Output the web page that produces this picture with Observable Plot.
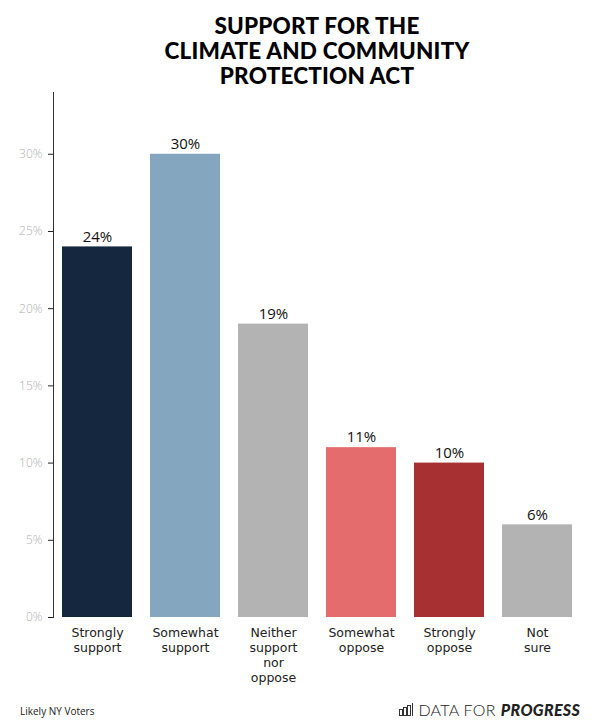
<!DOCTYPE html>
<html>
<head>
<meta charset="utf-8">
<script src="https://cdn.jsdelivr.net/npm/d3@7"></script>
<script src="https://cdn.jsdelivr.net/npm/@observablehq/plot@0.6"></script>
<style>
  body { margin: 0; background: #fff; width: 600px; font-family: Lato, "Open Sans", sans-serif; }
  #title { height: 88px; box-sizing: border-box; padding-top: 13px; padding-left: 34px; text-align: center;
           font-family: Lato, sans-serif; font-weight: 900; font-size: 22.5px; line-height: 25px; color: #000; letter-spacing: 0.2px; }
  #footer { position: relative; height: 34px; }
  #note { position: absolute; left: 20px; top: 14px; font-size: 10px; color: #222; font-family: "Open Sans", sans-serif; }
  #logo { position: absolute; right: 20px; top: 10px; font-size: 16px; color: #222; font-family: Lato, sans-serif; display: flex; align-items: center; letter-spacing: 0.3px; }
  #logo b { font-style: italic; font-weight: 900; margin-left: 5px; }
</style>
</head>
<body>
<div id="title">SUPPORT FOR THE<br>CLIMATE AND COMMUNITY<br>PROTECTION ACT</div>
<div id="chart"></div>
<div id="footer">
  <div id="note">Likely NY Voters</div>
  <div id="logo">
    <svg width="15" height="13" viewBox="0 0 15 13" style="margin-right:4px">
      <g fill="none" stroke="#333" stroke-width="1">
        <rect x="0.5" y="6.5" width="3" height="6"/>
        <rect x="4.5" y="4.5" width="3" height="8"/>
        <rect x="8.5" y="2.5" width="3" height="10"/>
        <line x1="13.5" y1="0" x2="13.5" y2="13"/>
      </g>
    </svg>
    <span style="font-weight:300">DATA FOR</span><b>PROGRESS</b>
  </div>
</div>
<script>
const categories = ["Strongly support", "Somewhat support", "Neither support nor oppose", "Somewhat oppose", "Strongly oppose", "Not sure"];
const labels = ["Strongly\nsupport", "Somewhat\nsupport", "Neither\nsupport\nnor\noppose", "Somewhat\noppose", "Strongly\noppose", "Not\nsure"];
const values = [24, 30, 19, 11, 10, 6];
const colors = ["#14273f", "#84a6bf", "#b3b3b3", "#e46c6c", "#a63032", "#b3b3b3"];
const yTicks = [0, 5, 10, 15, 20, 25, 30];

const data = categories.map((c, i) => ({category: c, value: values[i], color: colors[i]}));
const labelOf = new Map(categories.map((c, i) => [c, labels[i]]));

const chart = Plot.plot({
  width: 600,
  height: 602,
  marginTop: 4,
  marginBottom: 73,
  marginLeft: 53,
  marginRight: 19,
  style: {fontFamily: "'Open Sans', sans-serif", background: "#fff"},
  x: {domain: categories, paddingInner: 0.2, paddingOuter: 0.1, label: null},
  y: {domain: [0, 34], label: null},
  marks: [
    Plot.frame({anchor: "left", stroke: "#333", strokeOpacity: 1}),
    Plot.barY(data, {x: "category", y: "value", fill: "color"}),
    Plot.text(data, {x: "category", y: "value", text: d => d.value + "%", dy: -10, fontSize: 15, fill: "#111"}),
    Plot.axisY({ticks: yTicks, tickFormat: d => d + "%", tickSize: 5, tickPadding: 6, fontSize: 12, fontWeight: 300, color: "#b0b0b0", stroke: "#222", label: null}),
    Plot.axisX({tickSize: 0, tickPadding: 9, tickFormat: d => labelOf.get(d), fontSize: 12.5, lineHeight: 1.2, fontFamily: "'DejaVu Sans', sans-serif", color: "#222", label: null})
  ]
});
chart.querySelectorAll("g[aria-label='y-axis tick']").forEach(g => g.setAttribute("stroke", "#222"));
document.getElementById("chart").appendChild(chart);
</script>
</body>
</html>
